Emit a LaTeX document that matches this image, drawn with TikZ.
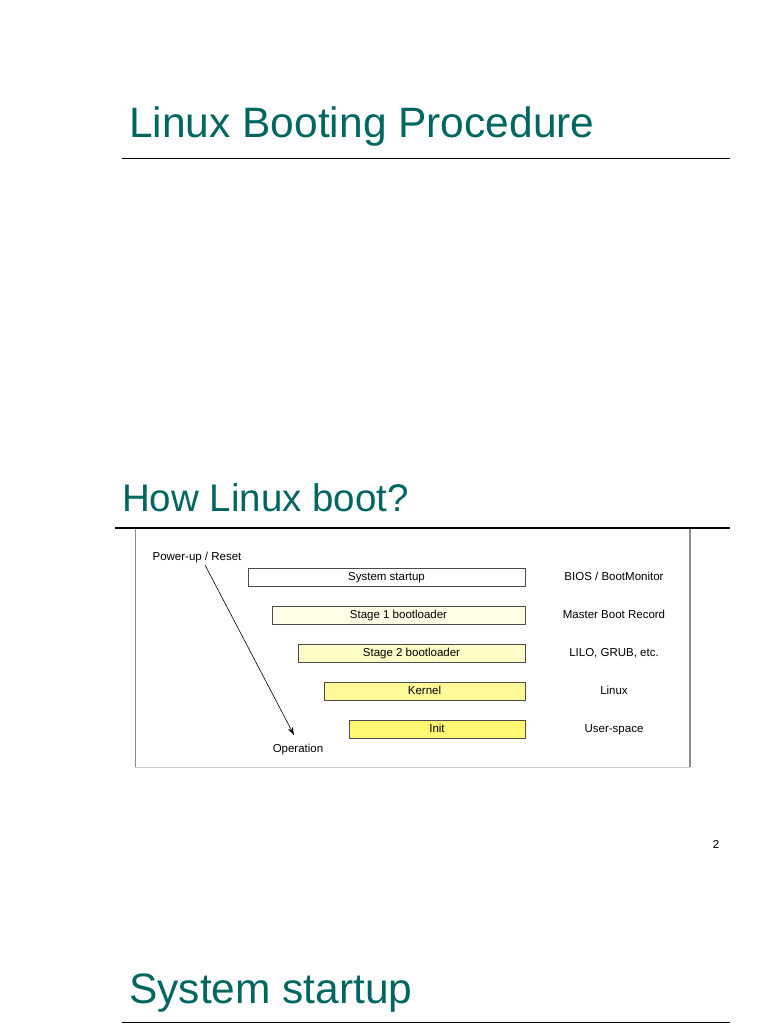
\documentclass[tikz,border=0pt]{standalone}
\usepackage{fontspec}
\setmainfont{Liberation Sans}
\usetikzlibrary{positioning,arrows.meta}
\definecolor{slideteal}{HTML}{006660}
\definecolor{frameGray}{HTML}{8C8C8C}
\begin{document}
\begin{tikzpicture}[x=1pt, y=-1pt,
  title/.style = {anchor=west, text=slideteal, font=\fontsize{42.5}{48}\selectfont, inner sep=0pt},
  stage/.style = {rectangle, draw=black!70, line width=0.8pt, minimum height=18pt, text height=8.5pt, text depth=2pt, font=\fontsize{11.5}{13}\selectfont, inner sep=0pt},
  tag/.style = {font=\fontsize{11.5}{13}\selectfont, text height=8.5pt, text depth=2pt, inner sep=1pt},
  font=\fontsize{11.5}{13}\selectfont]
  \useasboundingbox (0, 0) rectangle (768, 1024);

  % Headings.
  \node [title, name=MainTitle] at (129, 127) {Linux Booting Procedure};
  \draw [line width=0.8pt] (122, 158) -- (730, 158);
  \node [title, name=HowTitle, font=\fontsize{38.5}{44}\selectfont] at (122, 498) {How Linux boot?};
  \draw [line width=1.2pt] (115, 528) -- (730, 528);
  \node [title, name=StartTitle] at (129, 993) {System startup};
  \draw [line width=0.8pt] (122, 1022) -- (730, 1022);

  % Figure frame.
  \fill [white] (135, 529) rectangle (690, 767);
  \draw [frameGray, line width=0.8pt] (135, 529) -- (135, 767);
  \draw [frameGray, line width=2pt] (690, 529) -- (690, 767);
  \draw [black!20, line width=0.6pt] (135, 767) -- (690, 767);

  % Stages.
  \node [stage, fill=white, minimum width=277pt, name=Startup] at (386.5, 577) {System startup};
  \node [stage, fill=yellow!10, minimum width=253pt, name=StageOne] at (398.5, 615.5) {Stage 1 bootloader};
  \node [stage, fill=yellow!22, minimum width=227pt, name=StageTwo] at (411.5, 653) {Stage 2 bootloader};
  \node [stage, fill=yellow!40, minimum width=201pt, name=Kernel] at (424.5, 691) {Kernel};
  \node [stage, fill=yellow!55, minimum width=176pt, name=Init] at (437, 729.5) {Init};

  % Layers.
  \node [tag, name=BiosTag] at (614, 577) {BIOS / BootMonitor};
  \node [tag, name=MbrTag] at (614, 615.5) {Master Boot Record};
  \node [tag, name=LiloTag] at (614, 653) {LILO, GRUB, etc.};
  \node [tag, name=LinuxTag] at (614, 691) {Linux};
  \node [tag, name=UserTag] at (614, 729.5) {User-space};

  % Timeline.
  \node [tag, name=PowerUp] at (197, 557) {Power-up / Reset};
  \node [tag, name=Operation] at (298, 749) {Operation};
  \coordinate (TimeStart) at (205, 565);
  \coordinate (TimeEnd) at (294, 735);
  \draw [-{Stealth[length=8pt, width=5pt]}, line width=0.6pt] (TimeStart) -- (TimeEnd);

  % Page number.
  \node [tag, name=PageNum] at (716, 845) {2};
\end{tikzpicture}
\end{document}
